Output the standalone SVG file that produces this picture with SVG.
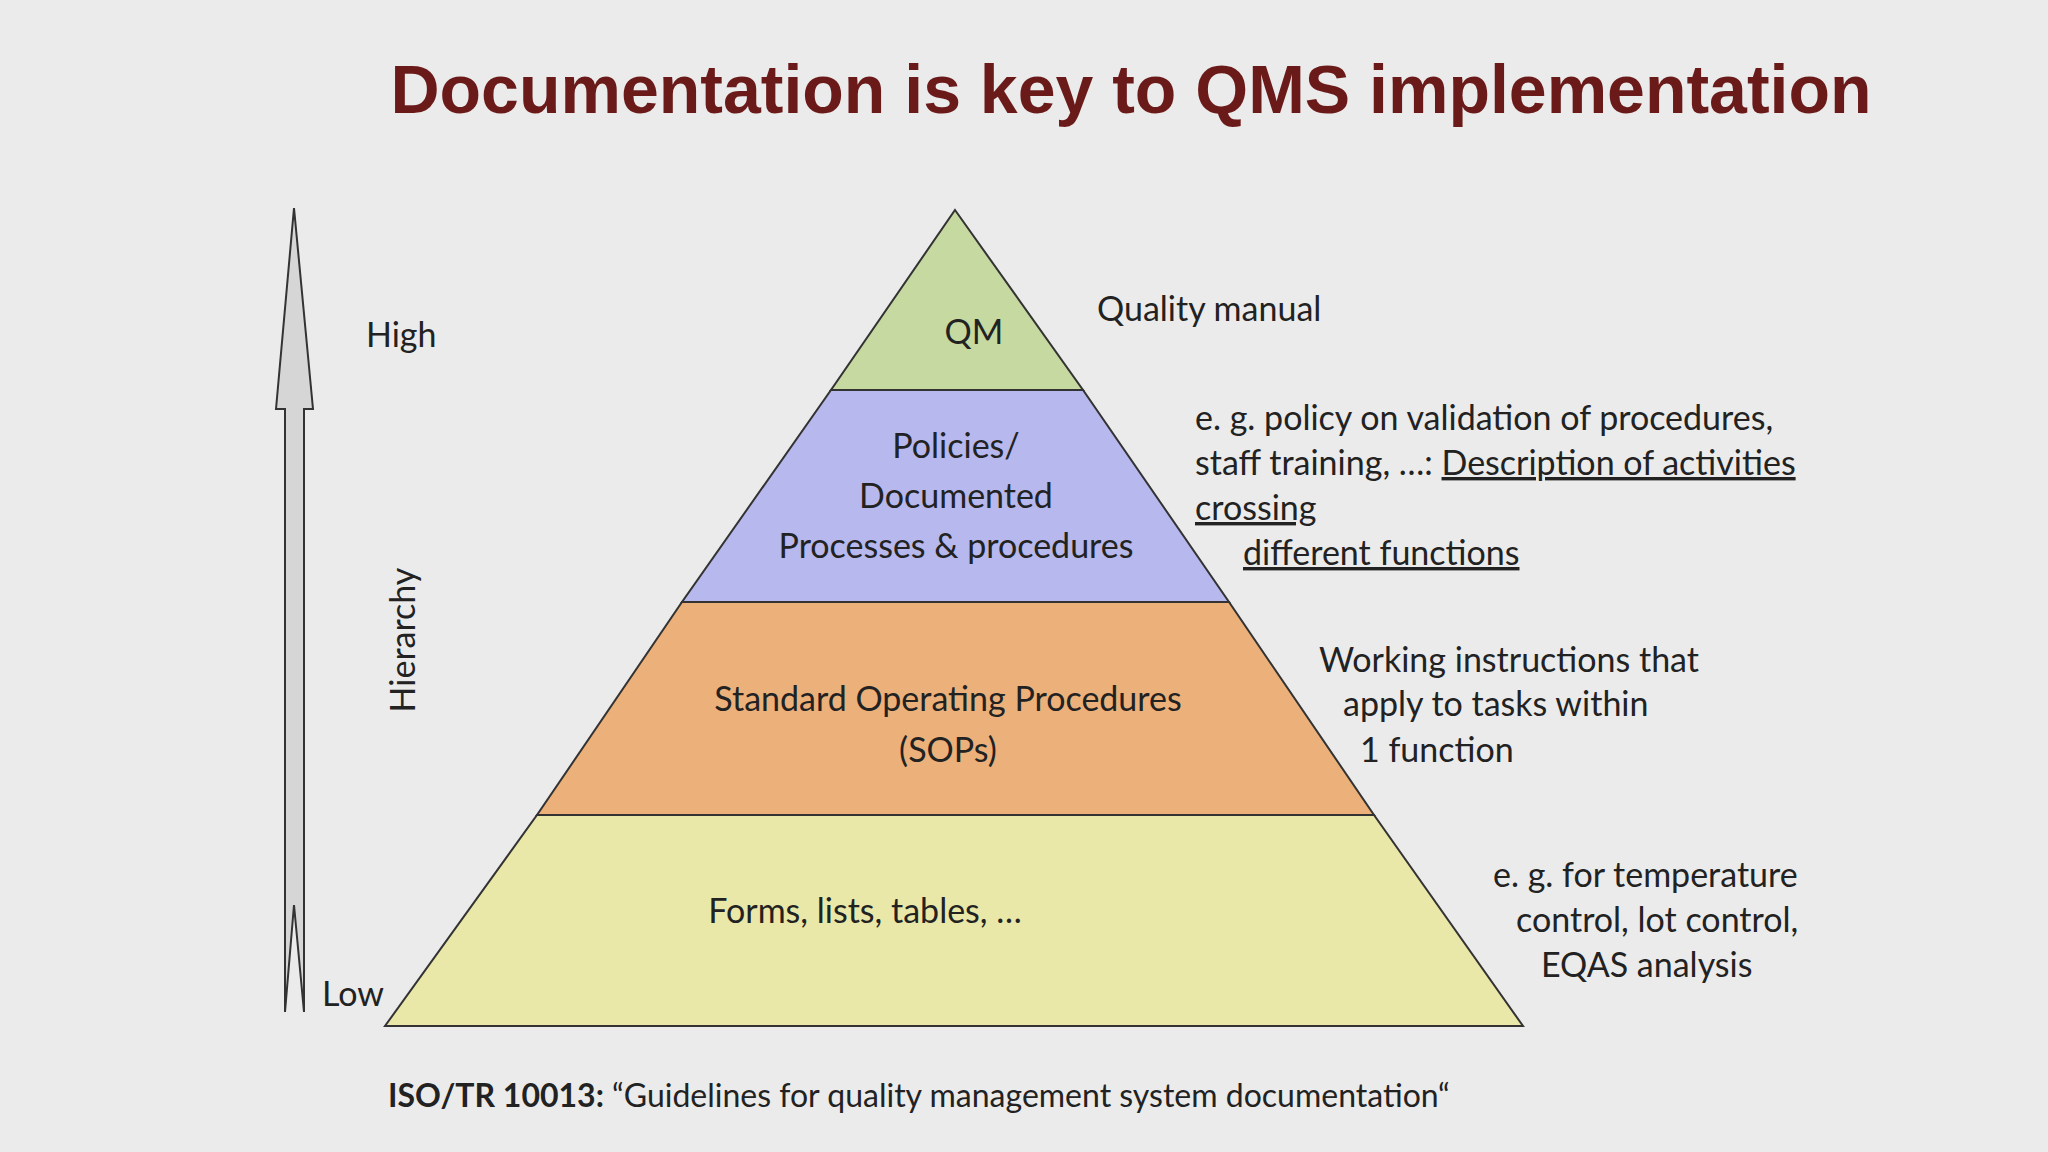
<svg xmlns="http://www.w3.org/2000/svg" width="2048" height="1152" viewBox="0 0 2048 1152">
<style>
.t{font-family:Lato,"Open Sans",sans-serif;font-size:34px;fill:#222}
.c{text-anchor:middle}
.u{text-decoration:underline}
.l{stroke:#333;stroke-width:2}
</style>
<rect width="2048" height="1152" fill="#ebebeb"/>
<text x="1131" y="113" text-anchor="middle" style="font-family:'Liberation Sans',Arial,sans-serif;font-weight:bold;font-size:68px;fill:#6b1a1a">Documentation is key to QMS implementation</text>
<g id="arrow"><path d="M294,208 L313,409 L304,409 L304,1012 L294,905 L285,1012 L285,409 L276,409 Z" fill="#d6d6d6" stroke="#333" stroke-width="2"/></g>
<g id="qm"><polygon points="955,210 1083,390 831,390" fill="#c6d9a0" class="l"/><text class="t c" x="974" y="344">QM</text></g>
<g id="policies"><polygon points="831,390 1083,390 1229,602 682,602" fill="#b6b8ee" class="l"/>
<text class="t c" x="956" y="458">Policies/</text><text class="t c" x="956" y="508">Documented</text><text class="t c" x="956" y="558">Processes &amp; procedures</text></g>
<g id="sops"><polygon points="682,602 1229,602 1374,815 537,815" fill="#ecb07a" class="l"/>
<text class="t c" x="948" y="711">Standard Operating Procedures</text><text class="t c" x="948" y="762">(SOPs)</text></g>
<g id="forms"><polygon points="537,815 1374,815 1523,1026 385,1026" fill="#e9e8a8" class="l"/>
<text class="t c" x="865" y="923">Forms, lists, tables, …</text></g>
<g id="labels">
<text class="t" x="366" y="347">High</text>
<text class="t" x="322" y="1006">Low</text>
<text class="t c" transform="translate(415,640) rotate(-90)">Hierarchy</text>
<text class="t" x="1097" y="321">Quality manual</text>
<text class="t" x="1195" y="430">e. g. policy on validation of procedures,</text>
<text class="t" x="1195" y="475">staff training, …: <tspan class="u">Description of activities</tspan></text>
<text class="t u" x="1195" y="520">crossing</text>
<text class="t u" x="1243" y="565">different functions</text>
<text class="t" x="1319" y="672">Working instructions that</text>
<text class="t" x="1343" y="716">apply to tasks within</text>
<text class="t" x="1360" y="762">1 function</text>
<text class="t" x="1493" y="887">e. g. for temperature</text>
<text class="t" x="1516" y="932">control, lot control,</text>
<text class="t" x="1541" y="977">EQAS analysis</text>
<text class="t" x="388" y="1107" style="font-size:32px"><tspan font-weight="bold">ISO/TR 10013:</tspan> “Guidelines for quality management system documentation“</text>
</g>
</svg>
